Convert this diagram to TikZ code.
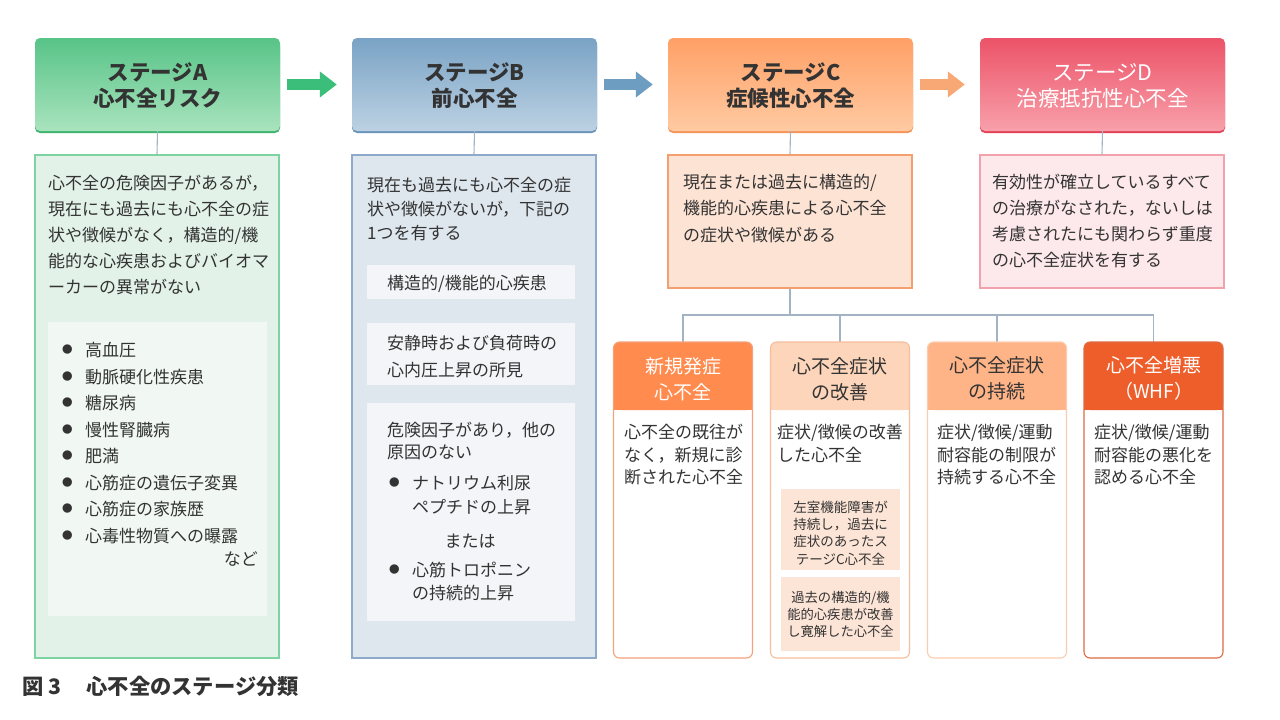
\documentclass[tikz,border=0pt]{standalone}
\usepackage{fontspec}
\setmainfont{Noto Sans CJK JP}
\usetikzlibrary{arrows.meta}
\definecolor{txt}{HTML}{333333}
\definecolor{gAa}{HTML}{58C487}\definecolor{gAb}{HTML}{A9E3BE}\definecolor{gAd}{HTML}{3DB56F}
\definecolor{bAf}{HTML}{E2F2E8}\definecolor{bAd}{HTML}{7ED4A0}\definecolor{iAf}{HTML}{F1F8F4}
\definecolor{gBa}{HTML}{7AA3C5}\definecolor{gBb}{HTML}{BCD1E3}\definecolor{gBd}{HTML}{6A94B8}
\definecolor{bBf}{HTML}{DEE6EE}\definecolor{bBd}{HTML}{8DAACA}\definecolor{iBf}{HTML}{F3F5F8}
\definecolor{gCa}{HTML}{FFA066}\definecolor{gCb}{HTML}{FFCAA2}\definecolor{gCd}{HTML}{F5955A}
\definecolor{bCf}{HTML}{FDE3D4}\definecolor{bCd}{HTML}{F4A06E}
\definecolor{gDa}{HTML}{EC5368}\definecolor{gDb}{HTML}{F8A0AA}\definecolor{gDd}{HTML}{E24258}
\definecolor{bDf}{HTML}{FDE8EB}\definecolor{bDd}{HTML}{F1A2AC}
\definecolor{arG}{HTML}{3BBE7A}\definecolor{arB}{HTML}{6E9DC2}\definecolor{arO}{HTML}{F8A874}
\definecolor{conn}{HTML}{A2B4C4}
\definecolor{sAh}{HTML}{FF8B4E}\definecolor{sAd}{HTML}{F4A27A}
\definecolor{sBh}{HTML}{FDD5BA}\definecolor{sBd}{HTML}{F6BE9D}\definecolor{sBi}{HTML}{FCE4D6}
\definecolor{sCh}{HTML}{FFB487}\definecolor{sCd}{HTML}{FBCDB0}
\definecolor{sDh}{HTML}{EE5E2B}\definecolor{sDd}{HTML}{DE6A43}
\newcommand\blt{\makebox[23pt][l]{\raisebox{2.6pt}{\fontsize{10.5}{10.5}\selectfont ●}}}
\begin{document}
\begin{tikzpicture}[x=1pt,y=-1pt,text=txt,
  hdr/.style={rounded corners=5pt, minimum width=245pt, minimum height=93pt, inner sep=0pt},
  htxt/.style={anchor=base, inner sep=0pt, align=center, font=\bfseries\fontsize{21.5}{26.5}\selectfont},
  shadow/.style={rounded corners=5pt},
  bodybox/.style={draw, line width=1.1pt, inner sep=0pt, minimum width=244pt},
  innerbox/.style={inner sep=0pt},
  tl/.style={anchor=base west, inner sep=0pt, align=left},
  tc/.style={anchor=base, inner sep=0pt, align=center},
  fs/.style={font=\fontsize{17}{#1}\selectfont},
  link/.style={draw=conn, line width=1.1pt},
  fat/.style={line width=10.5pt, -{Triangle[length=17pt,width=25pt]}, shorten <=7pt, shorten >=15pt},
  sbox/.style={fill=white, inner sep=0pt, minimum width=139pt, minimum height=316pt},
  sline/.style={line width=1.1pt, rounded corners=6pt},
  shead/.style={rounded corners=6pt, inner sep=0pt, minimum width=139pt, minimum height=68pt},
  shtxt/.style={inner sep=0pt, align=center, font=\fontsize{19}{26}\selectfont}
]
\useasboundingbox[fill=white] (0,0) rectangle (1280,720);

% ---------- header boxes ----------
\fill[gAd, shadow] (35,41) rectangle (280,133);
\node[hdr, top color=gAa, bottom color=gAb] (hA) at (157.5,84.5) {};
\fill[gBd, shadow] (352,41) rectangle (597,133);
\node[hdr, top color=gBa, bottom color=gBb] (hB) at (474.5,84.5) {};
\fill[gCd, shadow] (668,41) rectangle (913,133);
\node[hdr, top color=gCa, bottom color=gCb] (hC) at (790.5,84.5) {};
\fill[gDd, shadow] (980,41) rectangle (1225,133);
\node[hdr, top color=gDa, bottom color=gDb] (hD) at (1102.5,84.5) {};
\node[htxt] (hAt) at (157.5,106.7) {ステージA\\心不全リスク};
\node[htxt] (hBt) at (474.5,106.7) {ステージB\\前心不全};
\node[htxt] (hCt) at (790.5,106.7) {ステージC\\症候性心不全};
\node[htxt, text=white, font=\fontsize{21.5}{26.5}\selectfont] (hDt) at (1102.5,106.7) {ステージD\\治療抵抗性心不全};

% ---------- arrows ----------
\draw[fat, arG] (hA.east) -- (hB.west);
\draw[fat, arB] (hB.east) -- (hC.west);
\draw[fat, arO] (hC.east) -- (hD.west);

% ---------- body boxes ----------
\node[bodybox, fill=bAf, draw=bAd, minimum height=503pt] (bA) at (157,406.5) {};
\node[bodybox, fill=bBf, draw=bBd, minimum height=503pt] (bB) at (474,406.5) {};
\node[bodybox, fill=bCf, draw=bCd, minimum height=133pt] (bC) at (790,221.5) {};
\node[bodybox, fill=bDf, draw=bDd, minimum height=133pt] (bD) at (1102,221.5) {};

\draw[link] (hA.south) -- (bA.north);
\draw[link] (hB.south) -- (bB.north);
\draw[link] (hC.south) -- (bC.north);
\draw[link] (hD.south) -- (bD.north);

% ---------- stage A text ----------
\node[tl, fs=26] (tA) at (48,293.5) {心不全の危険因子があるが，\\現在にも過去にも心不全の症\\状や徴候がなく，構造的/機\\能的な心疾患およびバイオマ\\ーカーの異常がない};
\node[innerbox, fill=iAf, minimum width=219pt, minimum height=294pt] (iA) at (157.5,469) {};
\node[tl, fs=26.5] (lA) at (62,542) {\blt 高血圧\\\blt 動脈硬化性疾患\\\blt 糖尿病\\\blt 慢性腎臓病\\\blt 肥満\\\blt 心筋症の遺伝子変異\\\blt 心筋症の家族歴\\\blt 心毒性物質への曝露};
\node[anchor=base east, inner sep=0pt, fs=26] (ndA) at (258,565) {など};

% ---------- stage B text ----------
\node[tl, fs=24.2] (tB) at (367,239.9) {現在も過去にも心不全の症\\状や徴候がないが，下記の\\1つを有する};
\node[innerbox, fill=iBf, minimum width=208pt, minimum height=34pt] (iB1) at (471,282) {};
\node[innerbox, fill=iBf, minimum width=208pt, minimum height=62pt] (iB2) at (471,354) {};
\node[innerbox, fill=iBf, minimum width=208pt, minimum height=218pt] (iB3) at (471,512) {};
\node[tl, fs=26] (tB1) at (387,289.5) {構造的/機能的心疾患};
\node[tl, fs=26.7] (tB2) at (387,376.2) {安静時および負荷時の\\心内圧上昇の所見};
\node[tl, fs=22] (tB3) at (387,458.5) {危険因子があり，他の\\原因のない};
\node[tl, fs=24] (tB4) at (389,513.5) {\blt ナトリウム利尿\\\makebox[23pt]{}ペプチドの上昇};
\node[tc, fs=24] (tB5) at (470,547.5) {または};
\node[tl, fs=23] (tB6) at (389,599.5) {\blt 心筋トロポニン\\\makebox[23pt]{}の持続的上昇};

% ---------- stage C / D text ----------
\node[tl, fs=26.3] (tC) at (683,241.1) {現在または過去に構造的/\\機能的心疾患による心不全\\の症状や徴候がある};
\node[tl, fs=26] (tD) at (992,266.5) {有効性が確立しているすべて\\の治療がなされた，ないしは\\考慮されたにも関わらず重度\\の心不全症状を有する};

% ---------- tree ----------
\coordinate (j) at (790,315);
\node[sbox] (s1) at (683,500) {};
\node[sbox] (s2) at (840,500) {};
\node[sbox] (s3) at (997,500) {};
\node[sbox] (s4) at (1153.5,500) {};
\draw[link] (bC.south) -- (j);
\draw[link] (j) -| (s1.north);
\draw[link] (j) -| (s2.north);
\draw[link] (j) -| (s3.north);
\draw[link] (j) -| (s4.north);

% sub box 1
\node[shead, fill=sAh] (h1) at (683,376) {};
\fill[sAh] (613.5,376) rectangle (752.5,410);
\draw[sline, sAd] (613.5,342) rectangle (752.5,658);
\node[shtxt, text=white] (t1h) at (683,379) {新規発症\\心不全};
\node[tl, fs=22.5] (t1) at (624,483.5) {心不全の既往が\\なく，新規に診\\断された心不全};
% sub box 2
\node[shead, fill=sBh] (h2) at (840,376) {};
\fill[sBh] (770.5,376) rectangle (909.5,410);
\draw[sline, sBd] (770.5,342) rectangle (909.5,658);
\node[shtxt] (t2h) at (840,379) {心不全症状\\の改善};
\node[tl, fs=22.5] (t2) at (777,461) {症状/徴候の改善\\した心不全};
\node[innerbox, fill=sBi, minimum width=119pt, minimum height=81pt] (i21) at (840.5,529.5) {};
\node[innerbox, fill=sBi, minimum width=119pt, minimum height=74pt] (i22) at (840.5,614) {};
\node[inner sep=0pt, align=center, font=\fontsize{13.5}{17.3}\selectfont] (t21) at (840.5,533) {左室機能障害が\\持続し，過去に\\症状のあったス\\テージC心不全};
\node[inner sep=0pt, align=center, font=\fontsize{13.3}{17}\selectfont] (t22) at (840.5,614) {過去の構造的/機\\能的心疾患が改善\\し寛解した心不全};
% sub box 3
\node[shead, fill=sCh] (h3) at (997,376) {};
\fill[sCh] (927.5,376) rectangle (1066.5,410);
\draw[sline, sCd] (927.5,342) rectangle (1066.5,658);
\node[shtxt] (t3h) at (997,378) {心不全症状\\の持続};
\node[tl, fs=22.5] (t3) at (937,483.5) {症状/徴候/運動\\耐容能の制限が\\持続する心不全};
% sub box 4
\node[shead, fill=sDh] (h4) at (1153.5,376) {};
\fill[sDh] (1084,376) rectangle (1223,410);
\draw[sline, sDd] (1084,342) rectangle (1223,658);
\node[shtxt, text=white] (t4h) at (1153.5,378) {心不全増悪\\（WHF）};
\node[tl, fs=22.5] (t4) at (1094,483.5) {症状/徴候/運動\\耐容能の悪化を\\認める心不全};

% ---------- caption ----------
\node[anchor=base west, inner sep=0pt, font=\bfseries\fontsize{21.3}{24}\selectfont] (cap) at (22,694) {図\hspace{5pt}3\hspace{25pt}心不全のステージ分類};
\end{tikzpicture}
\end{document}
